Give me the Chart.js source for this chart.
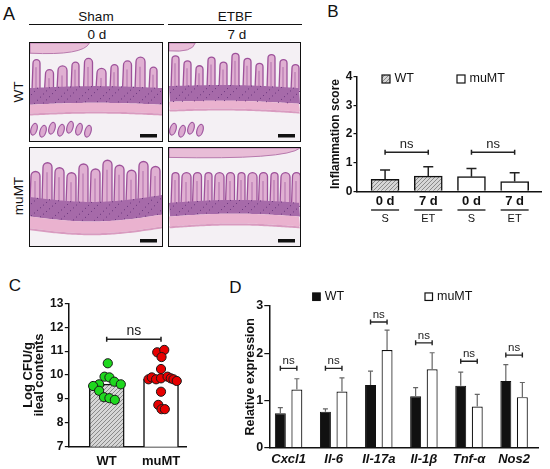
<!DOCTYPE html>
<html>
<head>
<meta charset="utf-8">
<script src="https://cdn.jsdelivr.net/npm/chart.js@4.4.1/dist/chart.umd.min.js"></script>
<style>
  body { margin: 0; background: #fff; font-family: "Liberation Sans", Arial, sans-serif; color: #111; }
  #page { position: relative; width: 550px; height: 469px; overflow: hidden; }
  .lbl { position: absolute; transform: translate(-50%, -50%); line-height: 1; white-space: nowrap; }
  .rot { transform: translate(-50%, -50%) rotate(-90deg); }
  .rule { position: absolute; height: 1.5px; background: #111; }
  .hist { position: absolute; border: 1.5px solid #111; line-height: 0; }
  .box { position: absolute; }
</style>
</head>
<body>
<div id="page">
  <!-- panel letters -->
  <div class="lbl" style="left:9px;top:13.5px;font-size:18px">A</div>
  <div class="lbl" style="left:333px;top:11px;font-size:17px">B</div>
  <div class="lbl" style="left:15px;top:285px;font-size:17px">C</div>
  <div class="lbl" style="left:235.5px;top:286.5px;font-size:17px">D</div>

  <!-- panel A headers -->
  <div class="lbl" style="left:96px;top:16.5px;font-size:13.5px">Sham</div>
  <div class="lbl" style="left:235px;top:16.5px;font-size:13.5px">ETBF</div>
  <div class="rule" style="left:29px;top:23.5px;width:135px"></div>
  <div class="rule" style="left:168px;top:23.5px;width:134px"></div>
  <div class="lbl" style="left:97px;top:35px;font-size:13.5px">0 d</div>
  <div class="lbl" style="left:237px;top:35px;font-size:13.5px">7 d</div>
  <div class="lbl rot" style="left:18.5px;top:92px;font-size:13.5px">WT</div>
  <div class="lbl rot" style="left:18.5px;top:196px;font-size:13.5px">muMT</div>

  <div class="hist" style="left:29px;top:42px"><canvas id="h1" width="132" height="98"></canvas></div>
  <div class="hist" style="left:168px;top:42px"><canvas id="h2" width="131" height="98"></canvas></div>
  <div class="hist" style="left:29px;top:147px"><canvas id="h3" width="132" height="98"></canvas></div>
  <div class="hist" style="left:168px;top:147px"><canvas id="h4" width="131" height="98"></canvas></div>

  <div class="box" style="left:300px;top:60px;width:250px;height:170px"><canvas id="chartB"></canvas></div>
  <div class="box" style="left:0px;top:290px;width:200px;height:179px"><canvas id="chartC"></canvas></div>
  <div class="box" style="left:210px;top:280px;width:340px;height:189px"><canvas id="chartD"></canvas></div>
</div>

<script>
// ---- datos ----
// B: inflammation score
const bDays = ['0 d', '7 d', '0 d', '7 d'];
const bGroup = ['S', 'ET', 'S', 'ET'];
const bScore = [0.42, 0.53, 0.51, 0.34];
const bSem = [0.32, 0.33, 0.29, 0.31];
const bNsHeight = [1.36, 1.36];

// C: log CFU/g ileal contents
const cGroups = ['WT', 'muMT'];
const cMean = [9.62, 9.82];
const cWT = [10.49, 9.93, 9.9, 9.72, 9.61, 9.61, 9.54, 9.34, 9.07, 9.03, 8.96];
const cWTSpread = [0.02, -0.04, 0.05, 0.14, 0.26, -0.14, -0.25, -0.14, -0.05, 0.05, 0.15];
const cMu = [10.95, 11.05, 10.75, 10.25, 9.82, 9.9, 9.82, 9.86, 9.93, 9.86, 9.82, 9.75, 9.3, 8.75, 8.57, 8.57];
const cMuSpread = [-0.07, 0.06, 0.01, 0, -0.23, -0.17, -0.09, 0, 0.12, 0.18, 0.23, 0.29, 0, -0.05, 0.01, 0.07];
const cNsHeight = 11.5;

// D: relative expression
const dGenes = ['Cxcl1', 'Il-6', 'Il-17a', 'Il-1\u03B2', 'Tnf-\u03B1', 'Nos2'];
const dWT = [0.73, 0.76, 1.33, 1.09, 1.31, 1.41];
const dWTSem = [0.12, 0.06, 0.29, 0.18, 0.29, 0.35];
const dMu = [1.23, 1.19, 2.07, 1.66, 0.87, 1.07];
const dMuSem = [0.23, 0.29, 0.42, 0.35, 0.26, 0.31];
const dNsHeight = [1.68, 1.68, 2.66, 2.22, 1.83, 1.96];

const FONT = '"Liberation Sans", Arial, sans-serif';
Chart.defaults.font.family = FONT;
Chart.defaults.color = '#111';
Chart.defaults.animation = false;

// relleno rayado gris (barras WT)
function hatch() {
  const c = document.createElement('canvas');
  c.width = c.height = 4;
  const g = c.getContext('2d');
  g.fillStyle = '#d6d6d6';
  g.fillRect(0, 0, 4, 4);
  g.strokeStyle = '#8a8a8a';
  g.lineWidth = 1;
  g.beginPath();
  g.moveTo(-1, 5); g.lineTo(5, -1);
  g.moveTo(3, 5); g.lineTo(5, 3);
  g.moveTo(-1, 1); g.lineTo(1, -1);
  g.stroke();
  return g.createPattern(c, 'repeat');
}
const hatchFill = hatch();

// ---- plugins ----
const errorBars = {
  id: 'errorBars',
  afterDatasetsDraw(chart, args, opts) {
    const ctx = chart.ctx, y = chart.scales.y;
    (opts.sets || []).forEach(s => {
      const bars = chart.getDatasetMeta(s.dataset).data;
      ctx.save();
      ctx.strokeStyle = s.color;
      ctx.lineWidth = s.width;
      bars.forEach((bar, i) => {
        const base = y.getPixelForValue(s.mean[i]);
        const top = y.getPixelForValue(s.mean[i] + s.sem[i]);
        ctx.beginPath();
        ctx.moveTo(bar.x, base); ctx.lineTo(bar.x, top);
        ctx.moveTo(bar.x - s.cap, top); ctx.lineTo(bar.x + s.cap, top);
        ctx.stroke();
      });
      ctx.restore();
    });
  }
};

const nsMarks = {
  id: 'nsMarks',
  afterDatasetsDraw(chart, args, opts) {
    const ctx = chart.ctx, y = chart.scales.y;
    ctx.save();
    ctx.strokeStyle = '#222';
    ctx.fillStyle = '#222';
    ctx.lineWidth = opts.width;
    ctx.font = opts.size + 'px ' + FONT;
    ctx.textAlign = 'center';
    ctx.textBaseline = 'middle';
    opts.pairs.forEach((p, k) => {
      const a = chart.getDatasetMeta(p[0][0]).data[p[0][1]];
      const b = chart.getDatasetMeta(p[1][0]).data[p[1][1]];
      const yy = y.getPixelForValue(opts.heights[k]);
      ctx.beginPath();
      ctx.moveTo(a.x, yy); ctx.lineTo(b.x, yy);
      ctx.moveTo(a.x, yy - opts.tick); ctx.lineTo(a.x, yy + opts.tick);
      ctx.moveTo(b.x, yy - opts.tick); ctx.lineTo(b.x, yy + opts.tick);
      ctx.stroke();
      ctx.fillText('ns', (a.x + b.x) / 2, yy - opts.gap);
    });
    ctx.restore();
  }
};

const boxLegend = {
  id: 'boxLegend',
  afterDraw(chart, args, opts) {
    const ctx = chart.ctx;
    ctx.save();
    ctx.font = opts.size + 'px ' + FONT;
    ctx.textBaseline = 'middle';
    ctx.textAlign = 'left';
    opts.items.forEach(it => {
      ctx.fillStyle = it.fill;
      ctx.fillRect(it.x, it.y - opts.box / 2, opts.box, opts.box);
      ctx.strokeStyle = '#111';
      ctx.lineWidth = 1.2;
      ctx.strokeRect(it.x, it.y - opts.box / 2, opts.box, opts.box);
      ctx.fillStyle = '#111';
      ctx.fillText(it.text, it.x + opts.box + 4.5, it.y);
    });
    ctx.restore();
  }
};

// etiquetas de B: dia / grupo
const dayLabels = {
  id: 'dayLabels',
  afterDraw(chart) {
    const ctx = chart.ctx, bottom = chart.chartArea.bottom;
    const bars = chart.getDatasetMeta(0).data;
    ctx.save();
    ctx.fillStyle = '#111';
    ctx.strokeStyle = '#111';
    ctx.textAlign = 'center';
    ctx.textBaseline = 'middle';
    bars.forEach((bar, i) => {
      ctx.font = 'bold 13px ' + FONT;
      ctx.fillText(bDays[i], bar.x, bottom + 10.5);
      ctx.lineWidth = 1.3;
      ctx.beginPath();
      ctx.moveTo(bar.x - 14, bottom + 18.7);
      ctx.lineTo(bar.x + 14, bottom + 18.7);
      ctx.stroke();
      ctx.font = '11px ' + FONT;
      ctx.fillText(bGroup[i], bar.x, bottom + 27.5);
    });
    ctx.restore();
  }
};

const axisLine = { display: true, color: '#111', width: 1.5 };

// ---- B ----
new Chart(document.getElementById('chartB'), {
  type: 'bar',
  data: {
    datasets: [{
      label: 'Inflammation score',
      data: bScore.map((v, i) => ({ x: i, y: v })),
      backgroundColor: [hatchFill, hatchFill, '#fff', '#fff'],
      borderColor: '#111',
      borderWidth: 1.5,
      barThickness: 28
    }]
  },
  options: {
    responsive: true,
    maintainAspectRatio: false,
    layout: { padding: { left: 0, top: 16.7, right: 9, bottom: 0 } },
    scales: {
      x: {
        type: 'linear', min: -0.65, max: 3.61, offset: false,
        afterFit: s => { s.height = 38.7; },
        ticks: { display: false },
        grid: { display: false, drawTicks: false },
        border: axisLine
      },
      y: {
        min: 0, max: 4,
        afterFit: s => { s.width = 57; },
        ticks: { stepSize: 1, padding: 1, font: { size: 12, weight: 'bold' } },
        grid: { drawOnChartArea: false, tickLength: 3.5, color: '#111', lineWidth: 1.2 },
        border: axisLine,
        title: { display: true, text: 'Inflammation score', font: { size: 12, weight: 'bold' }, padding: { top: 28.8, bottom: 0 } }
      }
    },
    plugins: {
      legend: { display: false },
      tooltip: { enabled: false },
      errorBars: { sets: [{ dataset: 0, mean: bScore, sem: bSem, color: '#222', width: 1.5, cap: 5 }] },
      nsMarks: { pairs: [[[0, 0], [0, 1]], [[0, 2], [0, 3]]], heights: bNsHeight, size: 13, width: 1.5, tick: 2.5, gap: 8 },
      boxLegend: { size: 12.5, box: 8, items: [
        { text: 'WT', fill: hatchFill, x: 82, y: 19 },
        { text: 'muMT', fill: '#fff', x: 157, y: 19 }
      ] }
    }
  },
  plugins: [errorBars, nsMarks, boxLegend, dayLabels]
});

// ---- C ----
new Chart(document.getElementById('chartC'), {
  type: 'bar',
  data: {
    datasets: [{
      label: 'mean',
      data: cMean.map((v, i) => ({ x: i, y: v })),
      backgroundColor: [hatchFill, '#fff'],
      borderColor: '#111',
      borderWidth: 1.5,
      barThickness: 35,
      order: 2
    }, {
      type: 'scatter',
      label: 'WT',
      data: cWT.map((v, i) => ({ x: 0 + cWTSpread[i], y: v })),
      pointRadius: 4.6,
      backgroundColor: '#1ed81e',
      borderColor: '#1a1a1a',
      borderWidth: 1,
      clip: false,
      order: 1
    }, {
      type: 'scatter',
      label: 'muMT',
      data: cMu.map((v, i) => ({ x: 1 + cMuSpread[i], y: v })),
      pointRadius: 4.6,
      backgroundColor: '#e60000',
      borderColor: '#1a1a1a',
      borderWidth: 1,
      clip: false,
      order: 1
    }]
  },
  options: {
    responsive: true,
    maintainAspectRatio: false,
    layout: { padding: { left: 0, top: 13.3, right: 13.3, bottom: 0 } },
    scales: {
      x: {
        type: 'linear', min: -0.707, max: 1.473, offset: false,
        afterFit: s => { s.height = 22.3; },
        afterBuildTicks: s => { s.ticks = cGroups.map((g, i) => ({ value: i })); },
        ticks: { autoSkip: false, maxRotation: 0, padding: 7, font: { size: 13, weight: 'bold' },
                 callback: v => cGroups[v] },
        grid: { display: false, drawTicks: false },
        border: axisLine
      },
      y: {
        min: 7, max: 13,
        afterFit: s => { s.width = 68.3; },
        ticks: { stepSize: 1, padding: 1.5, font: { size: 12, weight: 'bold' } },
        grid: { drawOnChartArea: false, tickLength: 3.5, color: '#111', lineWidth: 1.2 },
        border: axisLine,
        title: { display: true, text: ['Log CFU/g', 'ileal contents'],
                 font: { size: 13, weight: 'bold', lineHeight: 0.885 }, padding: { top: 22.2, bottom: 0 } }
      }
    },
    plugins: {
      legend: { display: false },
      tooltip: { enabled: false },
      nsMarks: { pairs: [[[0, 0], [0, 1]]], heights: [cNsHeight], size: 14, width: 1.5, tick: 2.5, gap: 8.5 }
    }
  },
  plugins: [nsMarks]
});

// ---- D ----
new Chart(document.getElementById('chartD'), {
  type: 'bar',
  data: {
    datasets: [{
      label: 'WT',
      data: dWT.map((v, i) => ({ x: i, y: v })),
      backgroundColor: '#111',
      borderColor: '#111',
      borderWidth: 1,
      categoryPercentage: 0.733,
      barPercentage: 0.663
    }, {
      label: 'muMT',
      data: dMu.map((v, i) => ({ x: i, y: v })),
      backgroundColor: '#fff',
      borderColor: '#111',
      borderWidth: 1.2,
      categoryPercentage: 0.733,
      barPercentage: 0.663
    }]
  },
  options: {
    responsive: true,
    maintainAspectRatio: false,
    layout: { padding: { left: 0, top: 26, right: 11.7, bottom: 0 } },
    scales: {
      x: {
        type: 'linear', min: -0.428, max: 5.537, offset: false,
        afterFit: s => { s.height = 21.3; },
        afterBuildTicks: s => { s.ticks = dGenes.map((g, i) => ({ value: i })); },
        ticks: { autoSkip: false, maxRotation: 0, padding: 3.8, font: { size: 13, weight: 'bold', style: 'italic' },
                 callback: v => dGenes[v] },
        grid: { display: false, drawTicks: false },
        border: axisLine
      },
      y: {
        min: 0, max: 3,
        afterFit: s => { s.width = 59.3; },
        ticks: { stepSize: 1, padding: 1, font: { size: 12.5, weight: 'bold' } },
        grid: { drawOnChartArea: false, tickLength: 5, color: '#111', lineWidth: 1.2 },
        border: axisLine,
        title: { display: true, text: 'Relative expression', font: { size: 12.5, weight: 'bold' }, padding: { top: 33.5, bottom: 0 } }
      }
    },
    plugins: {
      legend: { display: false },
      tooltip: { enabled: false },
      errorBars: { sets: [
        { dataset: 0, mean: dWT, sem: dWTSem, color: '#666', width: 1.2, cap: 2.5 },
        { dataset: 1, mean: dMu, sem: dMuSem, color: '#666', width: 1.2, cap: 2.5 }
      ] },
      nsMarks: { pairs: dGenes.map((g, i) => [[0, i], [1, i]]), heights: dNsHeight, size: 11.5, width: 1.4, tick: 2.5, gap: 7.5 },
      boxLegend: { size: 12.5, box: 7.5, items: [
        { text: 'WT', fill: '#111', x: 102.7, y: 16.7 },
        { text: 'muMT', fill: '#fff', x: 215, y: 16.7 }
      ] }
    }
  },
  plugins: [errorBars, nsMarks, boxLegend]
});

// ---- A: esquemas de la histologia ----
function drawTissue(id, o) {
  const cv = document.getElementById(id);
  const g = cv.getContext('2d');
  const w = cv.width, h = cv.height;
  g.fillStyle = '#f4f0f4';
  g.fillRect(0, 0, w, h);
  const baseY = x => h * (o.base + o.tilt * (x / w) + o.bend * Math.sin(Math.PI * x / w));

  function band(a, b, color) {
    g.fillStyle = color;
    g.beginPath();
    for (let x = 0; x <= w; x += 2) g.lineTo(x, baseY(x) + a * h);
    for (let x = w; x >= 0; x -= 2) g.lineTo(x, baseY(x) + b * h);
    g.closePath();
    g.fill();
  }

  // trozo suelto arriba
  if (o.strip) {
    g.fillStyle = '#e8bdd7';
    g.beginPath();
    g.moveTo(o.strip[0] * w, 0);
    g.lineTo(o.strip[1] * w, 0);
    g.quadraticCurveTo(o.strip[1] * w * 0.9, h * o.strip[2], o.strip[0] * w, h * o.strip[2] * 0.8);
    g.closePath();
    g.fill();
    g.strokeStyle = '#b879ad';
    g.lineWidth = 1;
    g.stroke();
  }

  // vellosidades (alturas y anchos algo irregulares)
  for (let x = o.first; x < w - 3; x += o.step) {
    const k = ((x * 37) % 11) / 11;
    const top = h * o.tip + k * h * 0.14;
    const b = baseY(x) + 3;
    const r = o.vw / 2 + ((x * 7) % 3) * 0.5;
    g.fillStyle = '#e0b0d2';
    g.strokeStyle = '#9d519a';
    g.lineWidth = 1.3;
    g.beginPath();
    g.moveTo(x - r, b);
    g.lineTo(x - r + 1, top + r);
    g.arc(x + 0.5, top + r, r - 0.5, Math.PI, 0);
    g.lineTo(x + r, b);
    g.fill();
    g.stroke();
    g.strokeStyle = '#b06fab';
    g.lineWidth = 1;
    g.beginPath();
    g.moveTo(x, top + r * 2);
    g.lineTo(x, b);
    g.stroke();
  }

  band(0, o.mucosa, '#a66aa9');
  band(o.mucosa, o.mucosa + o.muscle, '#eab2cf');
  band(o.mucosa + o.muscle, o.mucosa + o.muscle + 0.02, '#d99bc0');

  // puntos de nucleos en la mucosa
  g.fillStyle = '#6f3a80';
  for (let x = 1; x < w; x += 3) {
    for (let d = 0; d < o.mucosa * h; d += 3) {
      if ((x * 31 + d * 17) % 7 < 2) g.fillRect(x, baseY(x) + d, 1, 1);
    }
  }

  // fragmentos abajo a la izquierda
  if (o.frag) {
    g.strokeStyle = '#a059a0';
    g.fillStyle = '#dcaad0';
    g.lineWidth = 1.2;
    for (let x = 4; x < o.frag * w; x += 9) {
      const t = h * 0.86 + ((x * 13) % 5);
      g.beginPath();
      g.ellipse(x, t, 3, 6, 0.3, 0, Math.PI * 2);
      g.fill();
      g.stroke();
    }
  }

  // barra de escala
  g.fillStyle = '#111';
  g.fillRect(w - 22, h - 7, 17, 3.5);
}

drawTissue('h1', { base: 0.46, tilt: 0, bend: -0.02, tip: 0.14, first: 6, step: 13, vw: 8, mucosa: 0.17, muscle: 0.09, strip: [0, 0.45, 0.13], frag: 0.45 });
drawTissue('h2', { base: 0.44, tilt: 0.02, bend: -0.02, tip: 0.1, first: 6, step: 12, vw: 8, mucosa: 0.16, muscle: 0.08, strip: [0, 0.2, 0.1], frag: 0.3 });
drawTissue('h3', { base: 0.5, tilt: -0.02, bend: 0.06, tip: 0.12, first: 5, step: 12, vw: 8, mucosa: 0.2, muscle: 0.12, strip: null, frag: 0 });
drawTissue('h4', { base: 0.56, tilt: 0, bend: -0.03, tip: 0.22, first: 6, step: 11, vw: 8, mucosa: 0.14, muscle: 0.1, strip: [0, 1, 0.12], frag: 0 });
</script>
</body>
</html>
